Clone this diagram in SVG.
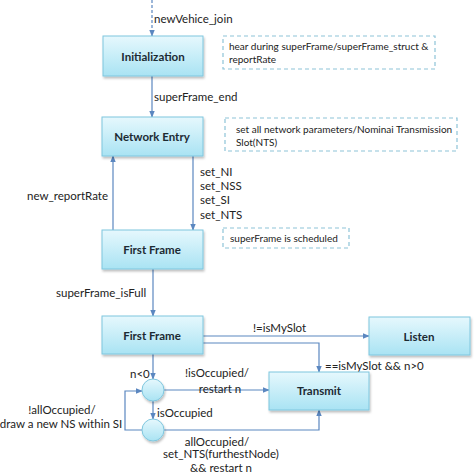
<svg xmlns="http://www.w3.org/2000/svg" width="474" height="475" viewBox="0 0 474 475">
<defs>
<linearGradient id="g" x1="0" y1="0" x2="0" y2="1">
<stop offset="0" stop-color="#e6f8fd"/>
<stop offset="1" stop-color="#a9e3f3"/>
</linearGradient>
<filter id="sh" x="-10%" y="-10%" width="130%" height="140%">
<feDropShadow dx="1" dy="2" stdDeviation="1.2" flood-color="#000" flood-opacity="0.25"/>
</filter>
<marker id="ar" viewBox="0 0 10 10" refX="9" refY="5" markerWidth="6" markerHeight="6" orient="auto">
<path d="M0,1 L10,5 L0,9 z" fill="#5b87c0"/>
</marker>
</defs>
<style>
.box{fill:url(#g);stroke:#7fc6de;stroke-width:1;filter:url(#sh)}
.bt{font-family:Lato,"Open Sans",sans-serif;font-size:11.5px;font-weight:bold;fill:#1c2a33;text-anchor:middle}
.lb{font-family:Lato,"Open Sans",sans-serif;font-size:11.5px;fill:#222}
.nt{font-family:Lato,"Open Sans",sans-serif;font-size:10px;fill:#222}
.note{fill:#fff;stroke:#8ec3d8;stroke-width:1.2;stroke-dasharray:4,3}
.c{fill:none;stroke:#5b87c0;stroke-width:1.2}
</style>
<g id="connectors">
<path class="c" d="M152,0 V36" stroke-dasharray="3,2" marker-end="url(#ar)"/>
<path class="c" d="M152,76 V117" marker-end="url(#ar)"/>
<path class="c" d="M193,156 V230" marker-end="url(#ar)"/>
<path class="c" d="M113,230 V156" marker-end="url(#ar)"/>
<path class="c" d="M153,269 V316" marker-end="url(#ar)"/>
<path class="c" d="M203,336 H369" marker-end="url(#ar)"/>
<path class="c" d="M203,343 H319 V372" marker-end="url(#ar)"/>
<path class="c" d="M153,354 V379" marker-end="url(#ar)"/>
<path class="c" d="M164,390 H269" marker-end="url(#ar)"/>
<path class="c" d="M153,401 V419" marker-end="url(#ar)"/>
<path class="c" d="M142,430 H125 V391 H142" marker-end="url(#ar)"/>
<path class="c" d="M164,430 H319 V410" marker-end="url(#ar)"/>
<text class="lb" x="154" y="23">newVehice_join</text>
<text class="lb" x="154" y="101">superFrame_end</text>
<text class="lb" x="27" y="200">new_reportRate</text>
<text class="lb" x="200" y="176">set_NI</text>
<text class="lb" x="200" y="190">set_NSS</text>
<text class="lb" x="200" y="204">set_SI</text>
<text class="lb" x="200" y="219">set_NTS</text>
<text class="lb" x="56" y="297">superFrame_isFull</text>
<text class="lb" x="253" y="332">!=isMySlot</text>
<text class="lb" x="325" y="370">==isMySlot &amp;&amp; n&gt;0</text>
<text class="lb" x="130" y="378">n&lt;0</text>
<text class="lb" x="217" y="377" text-anchor="middle">!isOccupied/</text>
<text class="lb" x="220" y="393" text-anchor="middle">restart n</text>
<text class="lb" x="157" y="417">isOccupied</text>
<text class="lb" x="62" y="414" text-anchor="middle">!allOccupied/</text>
<text class="lb" x="61" y="428" text-anchor="middle">draw a new NS within SI</text>
<text class="lb" x="217" y="446" text-anchor="middle">allOccupied/</text>
<text class="lb" x="221" y="458" text-anchor="middle">set_NTS(furthestNode)</text>
<text class="lb" x="221" y="472" text-anchor="middle">&amp;&amp; restart n</text>
</g>
<g id="initialization">
<rect class="box" x="103" y="36" width="100" height="40"/>
<text class="bt" x="153" y="61">Initialization</text>
</g>
<g id="note-init">
<rect class="note" x="223" y="36" width="212" height="33"/>
<text class="nt" x="229" y="50">hear during superFrame/superFrame_struct &amp;</text>
<text class="nt" x="229" y="63">reportRate</text>
</g>
<g id="network-entry">
<rect class="box" x="102" y="117" width="101" height="39"/>
<text class="bt" x="152" y="141">Network Entry</text>
</g>
<g id="note-entry">
<rect class="note" x="225" y="118" width="232" height="33"/>
<text class="nt" x="236" y="133">set all network parameters/Nominai Transmission</text>
<text class="nt" x="236" y="146">Slot(NTS)</text>
</g>
<g id="first-frame-1">
<rect class="box" x="102" y="230" width="101" height="39"/>
<text class="bt" x="152" y="254">First Frame</text>
</g>
<g id="note-ff">
<rect class="note" x="223" y="228" width="126" height="20"/>
<text class="nt" x="230" y="242">superFrame is scheduled</text>
</g>
<g id="first-frame-2">
<rect class="box" x="102" y="316" width="101" height="38"/>
<text class="bt" x="152" y="340">First Frame</text>
</g>
<g id="listen">
<rect class="box" x="369" y="317" width="101" height="38"/>
<text class="bt" x="419" y="341">Listen</text>
</g>
<g id="transmit">
<rect class="box" x="269" y="372" width="100" height="38"/>
<text class="bt" x="319" y="395">Transmit</text>
</g>
<g id="choice-1">
<circle class="box" cx="153" cy="390" r="11"/>
</g>
<g id="choice-2">
<circle class="box" cx="153" cy="430" r="11"/>
</g>
</svg>
